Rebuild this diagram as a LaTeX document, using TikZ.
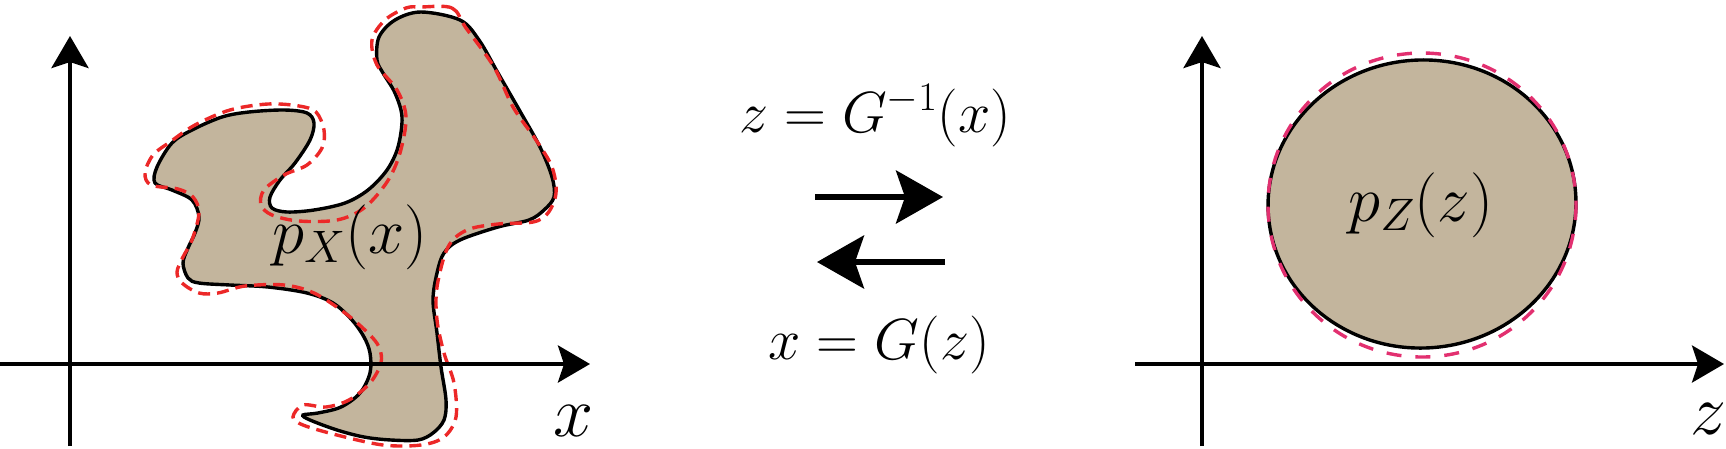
\RequirePackage{fix-cm}
\documentclass[tikz,border=0pt]{standalone}
\usepackage{amssymb}
\usepackage{tikz}
\usetikzlibrary{arrows.meta}

\definecolor{blobfill}{RGB}{195,181,157}
\definecolor{fitred}{RGB}{236,40,40}
\definecolor{fitpink}{RGB}{226,48,112}

\tikzset{
	axis/.style={line width=4pt, -{Stealth[length=32pt,width=37pt,inset=6pt]}},
	density/.style={fill=blobfill, draw=black, line width=3.4pt},
	fitline/.style={line width=3.4pt, dash pattern=on 12pt off 7pt},
	flow/.style={line width=5.5pt, -{Stealth[length=47pt,width=53pt,inset=9pt]}},
	eqlabel/.style={anchor=base, font=\fontsize{58}{66}\selectfont},
	pdflabel/.style={anchor=base, font=\fontsize{65}{74}\selectfont},
	axlabel/.style={anchor=base, font=\fontsize{72}{80}\selectfont}
}

\begin{document}
\begin{tikzpicture}[x=1pt,y=-1pt]
	\useasboundingbox (0,0) rectangle (1726,448);

	% data space
	\draw[density] plot[smooth cycle, tension=0.55] coordinates {
		(421,12) (460,20) (479,40) (498,73) (521,113) (540,147) (552,177)
		(554,197) (544,210) (529,220) (498,227) (460,240) (444,253) (437,273)
		(433,300) (437,333) (441,367) (446,400) (444,420) (433,433) (418,440)
		(391,440) (364,437) (337,430) (310,420) (303,415) (318,413) (341,407)
		(360,393) (370,373) (370,353) (364,337) (352,320) (333,303) (307,293)
		(268,287) (230,285) (199,283) (188,278) (183,263) (188,248) (195,233)
		(199,217) (192,200) (172,190) (155,183) (157,167) (172,143) (192,130)
		(222,117) (249,112) (284,110) (307,113) (314,123) (310,140) (295,163)
		(280,180) (270,197) (272,208) (287,212) (314,210) (345,203) (368,190)
		(387,170) (398,147) (402,117) (395,93) (383,73) (377,60) (379,37)
		(395,20)};
	\draw[fitline, fitred] plot[smooth cycle, tension=0.55] coordinates {
		(421,7) (452,8) (466,28) (494,67) (513,107) (536,140) (552,167)
		(556,193) (548,213) (533,222) (498,224) (467,230) (448,247) (437,287)
		(437,320) (444,353) (454,383) (456,417) (444,437) (421,445) (383,445)
		(337,435) (303,425) (293,417) (303,405) (326,407) (349,400) (370,383)
		(381,363) (379,347) (368,333) (345,313) (314,293) (284,285) (245,286)
		(218,293) (199,293) (182,283) (177,272) (183,257) (192,240) (199,213)
		(193,197) (178,189) (151,185) (145,173) (153,155) (170,142) (195,125)
		(230,110) (268,104) (299,106) (316,112) (324,130) (322,148) (307,165)
		(284,175) (264,190) (261,205) (272,215) (299,221) (337,220) (364,208)
		(387,182) (400,153) (406,117) (397,90) (377,65) (372,40) (385,20)
		(406,8)};
	\node[pdflabel] (px) at (350,253) {$p_X(x)$};

	\coordinate (xy0) at (70,446);
	\coordinate (xy1) at (70,36);
	\coordinate (xx0) at (0,364);
	\coordinate (xx1) at (590,364);
	\draw[axis] (xy0) -- (xy1);
	\draw[axis] (xx0) -- (xx1);
	\node[axlabel] (xl) at (574,436) {$x$};

	% the two maps
	\node[eqlabel] (enc) at (875,132) {$z = G^{-1}(x)$};
	\node[eqlabel] (dec) at (879,359) {$x = G(z)$};
	\coordinate (fwd0) at (815,197);
	\coordinate (fwd1) at (943,197);
	\coordinate (bwd0) at (945,262);
	\coordinate (bwd1) at (817,262);
	\draw[flow] (fwd0) -- (fwd1);
	\draw[flow] (bwd0) -- (bwd1);

	% latent space
	\draw[density, rotate around={4:(1422,204)}] (1422,204) ellipse [x radius=154, y radius=144];
	\draw[fitline, fitpink, dash pattern=on 15pt off 14pt] (1422,205) ellipse [x radius=154, y radius=152];
	\node[pdflabel] (pz) at (1421,221) {$p_Z(z)$};

	\coordinate (zy0) at (1202,446);
	\coordinate (zy1) at (1202,36);
	\coordinate (zx0) at (1135,364);
	\coordinate (zx1) at (1724,364);
	\draw[axis] (zy0) -- (zy1);
	\draw[axis] (zx0) -- (zx1);
	\node[axlabel] (zl) at (1708,434) {$z$};
\end{tikzpicture}
\end{document}
